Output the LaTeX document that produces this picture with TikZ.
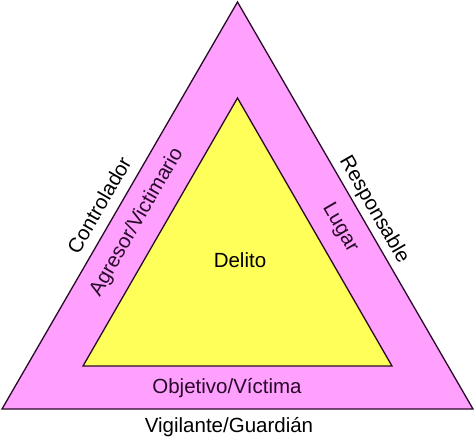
\documentclass[tikz,border=0pt]{standalone}
\usepackage{fontspec}
\setmainfont{Liberation Sans}
\usepackage{xcolor}
\usetikzlibrary{positioning}

\definecolor{rosa}{RGB}{255,160,255}
\definecolor{amarillo}{RGB}{255,255,90}
\definecolor{borde}{RGB}{40,10,40}

\begin{document}
\begin{tikzpicture}[
  x=1pt, y=-1pt,
  tri/.style={draw=borde, line width=1.3pt, line join=miter},
  lab/.style={font=\fontsize{20.5}{24}\selectfont, text=black, inner sep=0pt},
  labin/.style={lab, text=borde}
]
\useasboundingbox (0,0) rectangle (474,440);
% outer triangle
\coordinate (oa) at (2,409);
\coordinate (ob) at (473,409);
\coordinate (oc) at (237.5,2);
\draw[tri, fill=rosa] (oa) -- (ob) -- (oc) -- cycle;
% inner triangle
\coordinate (ia) at (83,366);
\coordinate (ib) at (392,366);
\coordinate (ic) at (237.5,98);
\draw[tri, fill=amarillo] (ia) -- (ib) -- (ic) -- cycle;
% labels
\node[lab] (delito) at (240,260) {Delito};
\node[labin] (objetivo) at (227,388) {Objetivo/Víctima};
\node[lab] (vigilante) at (229,427) {Vigilante/Guardián};
\node[labin, rotate=60] (agresor) at (137,222) {Agresor/Victimario};
\node[lab, rotate=60] (controlador) at (99,205) {Controlador};
\node[labin, rotate=-60] (lugar) at (340,228) {Lugar};
\node[lab, rotate=-60] (responsable) at (374,210) {Responsable};
\end{tikzpicture}
\end{document}
